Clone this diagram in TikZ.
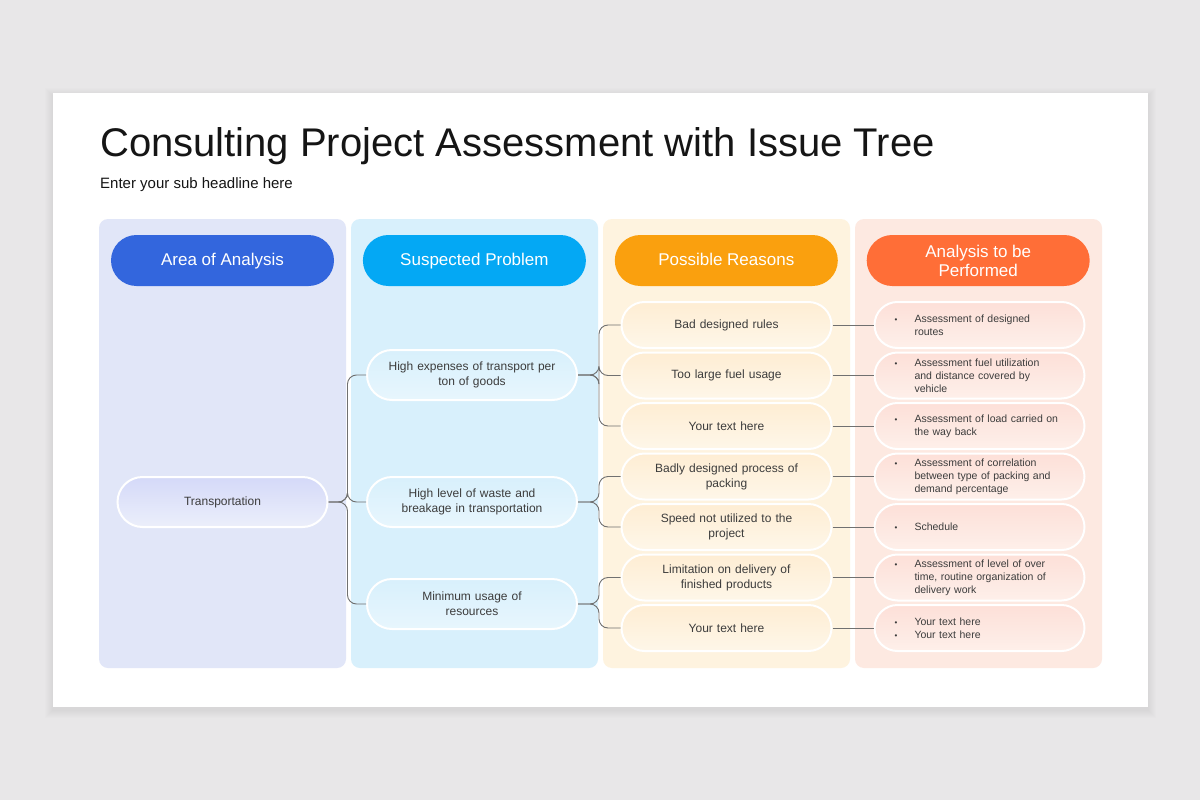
\documentclass[tikz,border=0pt]{standalone}
\usepackage{fontspec}
\setmainfont{Liberation Sans}
\usepackage{tikz}
\usetikzlibrary{positioning}
\definecolor{fondo}{HTML}{E8E7E8}
\definecolor{titulo}{HTML}{151515}
\definecolor{texto}{HTML}{3C3C3C}
\definecolor{conector}{HTML}{707070}
\definecolor{panelArea}{HTML}{E1E6F8}
\definecolor{panelProblema}{HTML}{D8F0FC}
\definecolor{panelRazon}{HTML}{FEF3DF}
\definecolor{panelAnalisis}{HTML}{FDE9E1}
\definecolor{azulArea}{HTML}{3366DD}
\definecolor{azulProblema}{HTML}{04A8F4}
\definecolor{naranjaRazon}{HTML}{FAA00E}
\definecolor{rojoAnalisis}{HTML}{FF6E37}
\newcommand{\punto}{\makebox[21pt][l]{\hspace{1pt}{\fontsize{8}{8}\selectfont\textbullet}}}
\newcommand{\sangria}{\hspace*{21pt}}

\begin{document}
\begin{tikzpicture}[x=1pt,y=-1pt,node distance=50.5pt] % Estilos de nodos
\tikzstyle{cabecera} = [rectangle, rounded corners=25.5pt, minimum width=223pt, minimum height=51pt, inner sep=0pt, text=white, align=center, font=\fontsize{17}{19}\selectfont]
\tikzstyle{cabeceraUna} = [cabecera, text height=12.5pt, text depth=3.5pt]
\tikzstyle{caja} = [rectangle, draw=white, line width=2pt, rounded corners=23pt, minimum width=210pt, minimum height=46pt, text width=180pt, align=center, text=texto, font=\fontsize{12}{15}\selectfont]
\tikzstyle{cajaArea} = [caja, minimum height=50pt, rounded corners=25pt, top color=panelArea!92!blue!70!panelArea, bottom color=panelArea!65!white]
\tikzstyle{cajaProblema} = [caja, minimum height=50pt, rounded corners=25pt, top color=panelProblema, bottom color=panelProblema!60!white]
\tikzstyle{cajaRazon} = [caja, top color=panelRazon!94!orange!85!panelRazon, bottom color=panelRazon!70!white]
\tikzstyle{cajaAnalisis} = [caja, text width=172pt, align=left, font=\fontsize{10.5}{13}\selectfont, top color=panelAnalisis!95!red!80!panelAnalisis, bottom color=panelAnalisis!70!white]
\tikzstyle{linea} = [draw=conector, line width=0.9pt, rounded corners=9pt]
\useasboundingbox (0,0) rectangle (1200,800);
\fill[fondo] (0,0) rectangle (1200,800);
% Sombra y tarjeta blanca
\foreach \s in {1,...,8}{ \fill[black, opacity=0.007] (53-\s,93-\s+3) rectangle (1148+\s,707+\s+3); }
\fill[white] (53,93) rectangle (1148,707);
% Titulos
\node[anchor=base west, inner sep=0pt, text=titulo, font=\fontsize{40}{48}\selectfont] (titulo) at (100,156) {Consulting Project Assessment with Issue Tree};
\node[anchor=base west, inner sep=0pt, text=titulo, font=\fontsize{15}{18}\selectfont] (subtitulo) at (100,188) {Enter your sub headline here};
% Paneles de columnas
\foreach \x/\c in {99/panelArea,351/panelProblema,603/panelRazon,855/panelAnalisis}{ \fill[\c, rounded corners=9pt] (\x,219) rectangle ++(247,449); }
% Cabeceras
\node[cabeceraUna, fill=azulArea] (hArea) at (222.5,260.5) {Area of Analysis};
\node[cabeceraUna, fill=azulProblema, right=28.5pt of hArea] (hProblema) {Suspected Problem};
\node[cabeceraUna, fill=naranjaRazon, right=28.5pt of hProblema] (hRazones) {Possible Reasons};
\node[cabecera, fill=rojoAnalisis, right=28.5pt of hRazones] (hAnalisis) {Analysis to be\\Performed};
% Area y problemas
\node[cajaArea] (transp) at (222.5,502) {Transportation};
\node[cajaProblema] (prob1) at (472,375) {High expenses of transport per\\ton of goods};
\node[cajaProblema] (prob2) at (472,502) {High level of waste and\\breakage in transportation};
\node[cajaProblema] (prob3) at (472,604) {Minimum usage of\\resources};
% Razones posibles
\node[cajaRazon] (razon1) at (726.5,325) {Bad designed rules};
\node[cajaRazon, below of=razon1] (razon2) {Too large fuel usage};
\node[cajaRazon, below of=razon2] (razon3) {Your text here};
\node[cajaRazon, below of=razon3] (razon4) {Badly designed process of\\packing};
\node[cajaRazon, below of=razon4] (razon5) {Speed not utilized to the\\project};
\node[cajaRazon, below of=razon5] (razon6) {Limitation on delivery of\\finished products};
\node[cajaRazon, below of=razon6] (razon7) {Your text here};
% Analisis a realizar
\node[cajaAnalisis, right=41pt of razon1] (anal1) {\punto Assessment of designed\\\sangria routes};
\node[cajaAnalisis, right=41pt of razon2] (anal2) {\punto Assessment fuel utilization\\\sangria and distance covered by\\\sangria vehicle};
\node[cajaAnalisis, right=41pt of razon3] (anal3) {\punto Assessment of load carried on\\\sangria the way back};
\node[cajaAnalisis, right=41pt of razon4] (anal4) {\punto Assessment of correlation\\\sangria between type of packing and\\\sangria demand percentage};
\node[cajaAnalisis, right=41pt of razon5] (anal5) {\punto Schedule};
\node[cajaAnalisis, right=41pt of razon6] (anal6) {\punto Assessment of level of over\\\sangria time, routine organization of\\\sangria delivery work};
\node[cajaAnalisis, right=41pt of razon7] (anal7) {\punto Your text here\\\punto Your text here};
% Conectores
\foreach \i in {1,2,3}{ \draw[linea] (transp.east) -- ++(19,0) |- (prob\i.west); }
\foreach \p/\r in {1/1,1/2,1/3,2/4,2/5,3/6,3/7}{ \draw[linea] (prob\p.east) -- ++(21,0) |- (razon\r.west); }
\foreach \i in {1,...,7}{ \draw[linea] (razon\i.east) -- (anal\i.west); }
\end{tikzpicture}
\end{document}
